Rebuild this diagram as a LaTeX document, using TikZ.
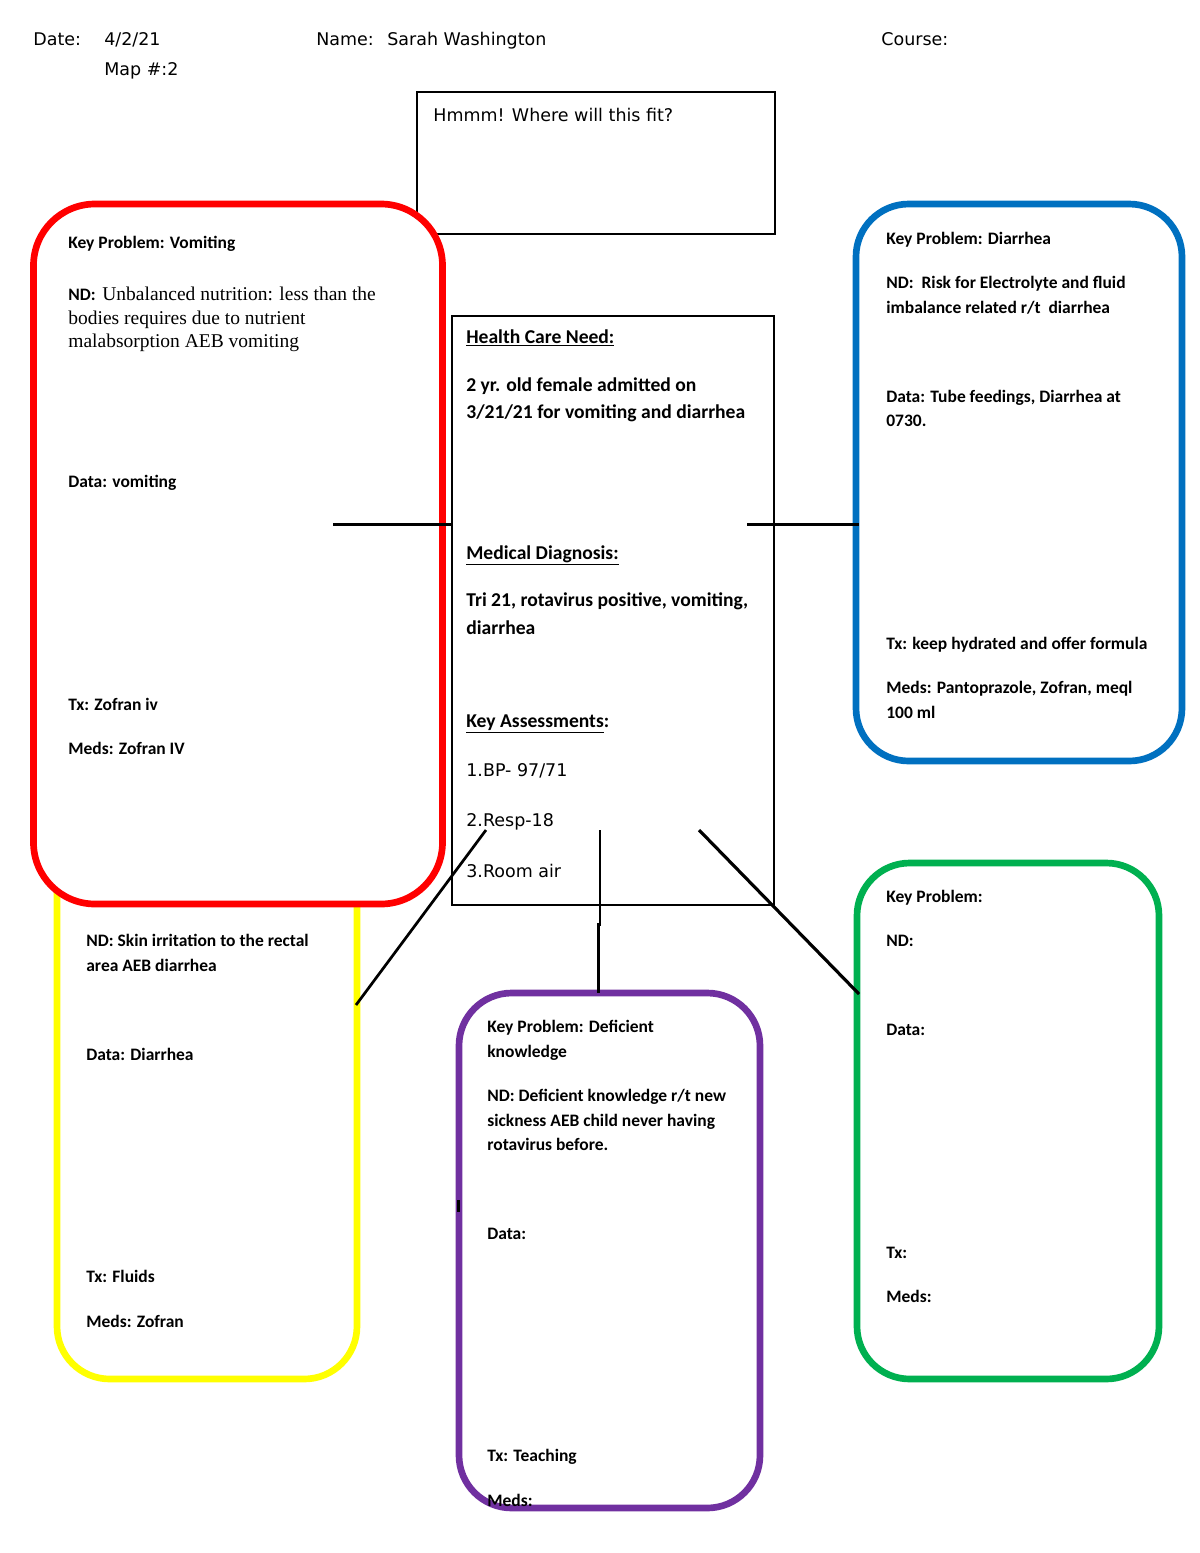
\documentclass[tikz,border=0pt]{standalone}
\usepackage{fontspec}
\setmainfont{Carlito}
\newfontfamily\serifface{Liberation Serif}
\newfontfamily\headface{DejaVu Sans}
\definecolor{mapred}{HTML}{FF0000}
\definecolor{mapblue}{HTML}{0070C0}
\definecolor{mapgreen}{HTML}{00B050}
\definecolor{mappurple}{HTML}{7030A0}
\definecolor{mapyellow}{HTML}{FFFF00}
\def\px{0.02cm}
\tikzset{
  mapbox/.style={draw,anchor=north west,inner sep=0pt,outer sep=0pt,line width=3.8pt,rounded corners=30pt},
  plainbox/.style={draw=black,anchor=north west,inner sep=0pt,outer sep=0pt,line width=1.4pt},
  link/.style={draw=black,line width=1.55pt},
  lbl/.style={anchor=base west,inner sep=0pt,yshift=-5*\px,font=\fontsize{9.95}{11}\selectfont\bfseries},
  midlbl/.style={anchor=base west,inner sep=0pt,yshift=-6*\px,font=\fontsize{11.15}{12}\selectfont\bfseries},
  headlbl/.style={anchor=base west,inner sep=0pt,yshift=-6*\px,font=\headface\fontsize{9.95}{12}\selectfont},
}
\begin{document}
\begin{tikzpicture}[x=\px,y=-\px]
\useasboundingbox (0,0) rectangle (1200,1553);
% header
\node[headlbl] (date) at (33,39) {Date:};
\node[headlbl] (dateval) at (104,39) {4/2/21};
\node[headlbl] (mapno) at (104,69) {Map \#:2};
\node[headlbl] (name) at (316,39) {Name:};
\node[headlbl] (student) at (387,39) {Sarah Washington};
\node[headlbl] (course) at (881,39) {Course:};
% top box
\node[plainbox,minimum width=358*\px,minimum height=142*\px] (fitbox) at (417,92) {};
\node[headlbl] (fit) at (433,115) {Hmmm! Where will this fit?};
% yellow box goes under the red one
\node[mapbox,draw=mapyellow,minimum width=300*\px,minimum height=579*\px] (yellowbox) at (57,800) {};
\node[mapbox,draw=mapred,fill=white,rounded corners=35pt,minimum width=409*\px,minimum height=700*\px] (redbox) at (33.5,204) {};
\node[mapbox,draw=mapblue,minimum width=326*\px,minimum height=557*\px] (bluebox) at (856,204) {};
\node[mapbox,draw=mapgreen,minimum width=302*\px,minimum height=516*\px] (greenbox) at (857,863) {};
\node[mapbox,draw=mappurple,minimum width=301*\px,minimum height=515*\px] (purplebox) at (459,993) {};
% center box
\node[plainbox,minimum width=322*\px,minimum height=589*\px] (needbox) at (452,316) {};
% connectors
\coordinate (redend) at (333,524.5);
\coordinate (blueend) at (747,524.5);
\coordinate (yellowend) at (356,1005);
\coordinate (yellowtop) at (486,830);
\coordinate (purptop) at (600,830);
\coordinate (purpbend) at (600,926);
\coordinate (purpmid) at (598.5,923);
\coordinate (greentop) at (699,830);
\coordinate (greenend) at (859,994);
\coordinate (marktop) at (458.5,1200);
\coordinate (markend) at (458.5,1212);
\draw[link] (redend) -- (needbox.west |- redend);
\draw[link,shorten >=-3*\px] (blueend) -- (bluebox.west |- blueend);
\draw[link] (yellowend) -- (yellowtop);
\draw[link] (purptop) -- (purpbend);
\draw[link] (purpmid) -- (purpmid |- purplebox.north);
\draw[link,line width=1.8pt] (greentop) -- (greenend);
\draw[link,line width=2pt] (marktop) -- (markend);
% red text
\node[lbl] (rk) at (68,243) {Key Problem: Vomiting};
\node[lbl] (rn) at (68,295) {ND:};
\node[anchor=base west,inner sep=0pt,font=\serifface\fontsize{11.1}{13.3}\selectfont] (rnd1) at (102,300) {Unbalanced nutrition: less than the};
\node[anchor=base west,inner sep=0pt,font=\serifface\fontsize{11.1}{13.3}\selectfont] (rnd2) at (68,324) {bodies requires due to nutrient};
\node[anchor=base west,inner sep=0pt,font=\serifface\fontsize{11.1}{13.3}\selectfont] (rnd3) at (68,347) {malabsorption AEB vomiting};
\node[lbl] (rd) at (68,482) {Data: vomiting};
\node[lbl] (rt) at (68,705) {Tx: Zofran iv};
\node[lbl] (rm) at (68,749) {Meds: Zofran IV};
% blue text
\node[lbl] (bk) at (886,239) {Key Problem: Diarrhea};
\node[lbl] (bn) at (886,283) {ND:\ \ Risk for Electrolyte and fluid};
\node[lbl] (bn2) at (886,308) {imbalance related r/t\ \ diarrhea};
\node[lbl] (bd) at (886,397) {Data: Tube feedings, Diarrhea at};
\node[lbl] (bd2) at (886,421) {0730.};
\node[lbl] (bt) at (886,644) {Tx: keep hydrated and offer formula};
\node[lbl] (bm) at (886,688) {Meds: Pantoprazole, Zofran, meql};
\node[lbl] (bm2) at (886,713) {100 ml};
% center text
\node[midlbl] (hc) at (466,337) {\underline{Health Care Need:}};
\node[midlbl] (hc1) at (466,385) {2 yr. old female admitted on};
\node[midlbl] (hc2) at (466,412) {3/21/21 for vomiting and diarrhea};
\node[midlbl] (md) at (466,553) {\underline{Medical Diagnosis:}};
\node[midlbl] (md1) at (466,600) {Tri 21, rotavirus positive, vomiting,};
\node[midlbl] (md2) at (466,628) {diarrhea};
\node[midlbl] (ka) at (466,721) {\underline{Key Assessments}:};
\node[headlbl] (ka1) at (466,770) {1.BP- 97/71};
\node[headlbl] (ka2) at (466,820) {2.Resp-18};
\node[headlbl] (ka3) at (466,871) {3.Room air};
% yellow text
\node[lbl] (yn) at (86,941) {ND: Skin irritation to the rectal};
\node[lbl] (yn2) at (86,966) {area AEB diarrhea};
\node[lbl] (yd) at (86,1055) {Data: Diarrhea};
\node[lbl] (yt) at (86,1277) {Tx: Fluids};
\node[lbl] (ym) at (86,1322) {Meds: Zofran};
% purple text
\node[lbl] (pk) at (487,1027) {Key Problem: Deficient};
\node[lbl] (pk2) at (487,1052) {knowledge};
\node[lbl] (pn) at (487,1096) {ND: Deficient knowledge r/t new};
\node[lbl] (pn2) at (487,1121) {sickness AEB child never having};
\node[lbl] (pn3) at (487,1145) {rotavirus before.};
\node[lbl] (pd) at (487,1234) {Data:};
\node[lbl] (pt) at (487,1456) {Tx: Teaching};
\node[lbl] (pm) at (487,1501) {Meds:};
% green text
\node[lbl] (gk) at (886,897) {Key Problem:};
\node[lbl] (gn) at (886,941) {ND:};
\node[lbl] (gd) at (886,1030) {Data:};
\node[lbl] (gt) at (886,1253) {Tx:};
\node[lbl] (gm) at (886,1297) {Meds:};
\end{tikzpicture}
\end{document}
